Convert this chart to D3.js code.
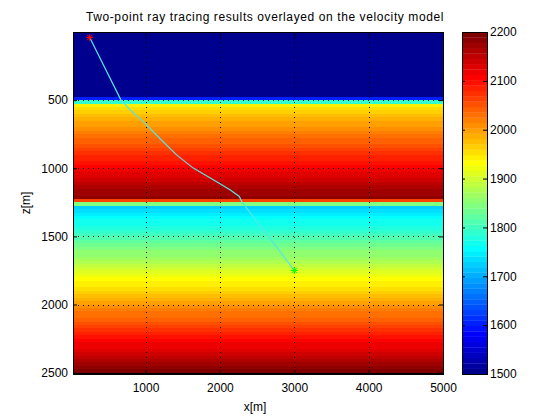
<!DOCTYPE html>
<html>
<head>
<meta charset="utf-8">
<script src="https://cdn.jsdelivr.net/npm/d3@7"></script>
<style>
  body { margin: 0; background: #fff; }
  svg { display: block; font-family: "Liberation Sans", Arial, sans-serif; }
</style>
</head>
<body>
<svg width="560" height="420"></svg>
<script>
// velocity model : layers (depth in m, velocity in m/s)
const layerTop = [0, 500, 1250];
const layerBottom = [500, 1250, 2510];
const velTop = [1500, 1935, 1710];
const velBottom = [1500, 2200, 2200];
// smoothed rows at the interfaces
const smoothZ = [475, 500, 1225, 1250];
const smoothV = [1600, 1790, 2063, 1845];

// ray path (x, z)
const rayX = [250, 670, 820, 991, 1200, 1418, 1642, 1911, 2136, 2261, 2300, 2420, 2584, 2780, 3000];
const rayZ = [40, 500, 585, 669, 785, 902, 999, 1085, 1158, 1207, 1250, 1335, 1452, 1590, 1750];
const source = [250, 40];
const receiver = [3000, 1750];

const xTicks = [1000, 2000, 3000, 4000, 5000];
const zTicks = [500, 1000, 1500, 2000, 2500];
const cTicks = [1500, 1600, 1700, 1800, 1900, 2000, 2100, 2200];
const cLimits = [1500, 2200];

const svg = d3.select("svg");
const box = { left: 73, right: 443, top: 32, bottom: 374 };
const cbar = { left: 462, right: 487 };

const x = d3.scaleLinear().domain([25, 5000]).range([box.left, box.right]);
const z = d3.scaleLinear().domain([0, 2510]).range([box.top, box.bottom]);
const c = d3.scaleLinear().domain(cLimits).range([box.bottom, box.top]);

// MATLAB jet(64)
const jet = (() => {
  const n = 16;
  const u = i => (i < 1 || i > 47) ? 0 : i <= 16 ? i / n : i <= 31 ? 1 : (48 - i) / n;
  const cols = [];
  for (let k = 1; k <= 64; k++) {
    const r = u(k - 24), g = u(k - 8), b = u(k + 8);
    cols.push(d3.rgb(r * 255, g * 255, b * 255).formatHex());
  }
  return cols;
})();
const colorOf = v => {
  let idx = Math.floor((v - cLimits[0]) / (cLimits[1] - cLimits[0]) * 64);
  idx = Math.max(0, Math.min(63, idx));
  return jet[idx];
};

// velocity of a grid row
const dz = 25;
const rowVel = zr => {
  const s = smoothZ.indexOf(zr);
  if (s >= 0) return smoothV[s];
  const zc = Math.min(zr + dz / 2, 2510);
  const i = layerTop.findIndex((t, j) => zc >= t && zc < layerBottom[j]);
  const f = (zc - layerTop[i]) / (layerBottom[i] - layerTop[i]);
  return velTop[i] + f * (velBottom[i] - velTop[i]);
};
const rows = d3.range(0, 2510, dz);

// image
svg.append("g")
  .selectAll("rect")
  .data(rows)
  .join("rect")
  .attr("x", x(25))
  .attr("width", x(5000) - x(25))
  .attr("y", d => z(d))
  .attr("height", d => z(Math.min(d + dz, 2510)) - z(d))
  .attr("fill", d => colorOf(rowVel(d)))
  .attr("shape-rendering", "crispEdges");

// grid
const grid = svg.append("g")
  .attr("stroke", "#000")
  .attr("stroke-width", 1)
  .attr("stroke-dasharray", "1,4");
grid.selectAll(".gx")
  .data(xTicks.filter(d => d < 5000))
  .join("line")
  .attr("x1", d => Math.round(x(d)) + 0.5)
  .attr("x2", d => Math.round(x(d)) + 0.5)
  .attr("y1", box.top)
  .attr("y2", box.bottom);
grid.selectAll(".gz")
  .data(zTicks)
  .join("line")
  .attr("y1", d => Math.round(z(d)) + 0.5)
  .attr("y2", d => Math.round(z(d)) + 0.5)
  .attr("x1", box.left)
  .attr("x2", box.right);

// ray
const ray = rayX.map((d, i) => [d, rayZ[i]]);
svg.append("path")
  .datum(ray)
  .attr("fill", "none")
  .attr("stroke", "#55e6e6")
  .attr("stroke-width", 1.2)
  .attr("d", d3.line().x(d => x(d[0])).y(d => z(d[1])));

const star = (p, col) => {
  const g = svg.append("g")
    .attr("transform", `translate(${x(p[0])},${z(p[1])})`)
    .attr("stroke", col)
    .attr("stroke-width", 1);
  const r = 3.5, q = 2.6;
  g.append("line").attr("x1", -r).attr("x2", r).attr("y1", 0).attr("y2", 0);
  g.append("line").attr("y1", -r).attr("y2", r).attr("x1", 0).attr("x2", 0);
  g.append("line").attr("x1", -q).attr("x2", q).attr("y1", -q).attr("y2", q);
  g.append("line").attr("x1", -q).attr("x2", q).attr("y1", q).attr("y2", -q);
};
star(source, "#ff0000");
star(receiver, "#00ff00");

// axes
const styleAxis = g => {
  g.select(".domain").remove();
  g.selectAll("line").attr("stroke", "#000");
  g.selectAll("text").attr("font-size", 12).attr("fill", "#000")
    .attr("font-family", '"Liberation Sans", Arial, sans-serif');
};
svg.append("g")
  .attr("transform", `translate(0,${box.bottom})`)
  .call(d3.axisBottom(x).tickValues(xTicks).tickFormat(d3.format("d")).tickSize(-4).tickPadding(9))
  .call(styleAxis);
svg.append("g")
  .attr("transform", `translate(0,${box.top})`)
  .call(d3.axisTop(x).tickValues(xTicks).tickFormat("").tickSize(-4))
  .call(styleAxis);
svg.append("g")
  .attr("transform", `translate(${box.left},0)`)
  .call(d3.axisLeft(z).tickValues(zTicks).tickFormat(d3.format("d")).tickSize(-4).tickPadding(5))
  .call(styleAxis);
svg.append("g")
  .attr("transform", `translate(${box.right},0)`)
  .call(d3.axisRight(z).tickValues(zTicks).tickFormat("").tickSize(-4))
  .call(styleAxis);

svg.append("rect")
  .attr("x", box.left + 0.5).attr("y", box.top + 0.5)
  .attr("width", box.right - box.left).attr("height", box.bottom - box.top)
  .attr("fill", "none").attr("stroke", "#000");

// colorbar
svg.append("g")
  .selectAll("rect")
  .data(jet)
  .join("rect")
  .attr("x", cbar.left)
  .attr("width", cbar.right - cbar.left)
  .attr("y", (d, i) => c(cLimits[0] + (i + 1) * (cLimits[1] - cLimits[0]) / 64))
  .attr("height", (box.bottom - box.top) / 64 + 0.3)
  .attr("fill", d => d);
svg.append("g")
  .attr("transform", `translate(${cbar.right},0)`)
  .call(d3.axisRight(c).tickValues(cTicks).tickFormat(d3.format("d")).tickSize(-4).tickPadding(3))
  .call(styleAxis);
svg.append("g")
  .attr("transform", `translate(${cbar.left},0)`)
  .call(d3.axisLeft(c).tickValues(cTicks).tickFormat("").tickSize(-3))
  .call(styleAxis);
svg.append("rect")
  .attr("x", cbar.left + 0.5).attr("y", box.top + 0.5)
  .attr("width", cbar.right - cbar.left).attr("height", box.bottom - box.top)
  .attr("fill", "none").attr("stroke", "#000");

// labels
svg.append("text")
  .attr("x", 265).attr("y", 21)
  .attr("text-anchor", "middle")
  .attr("font-size", 12)
  .attr("letter-spacing", 0.6)
  .text("Two-point ray tracing results overlayed on the velocity model");
svg.append("text")
  .attr("x", 255).attr("y", 411)
  .attr("text-anchor", "middle")
  .attr("font-size", 12)
  .text("x[m]");
svg.append("text")
  .attr("transform", "translate(30,203) rotate(-90)")
  .attr("text-anchor", "middle")
  .attr("font-size", 12)
  .text("z[m]");
</script>
</body>
</html>
